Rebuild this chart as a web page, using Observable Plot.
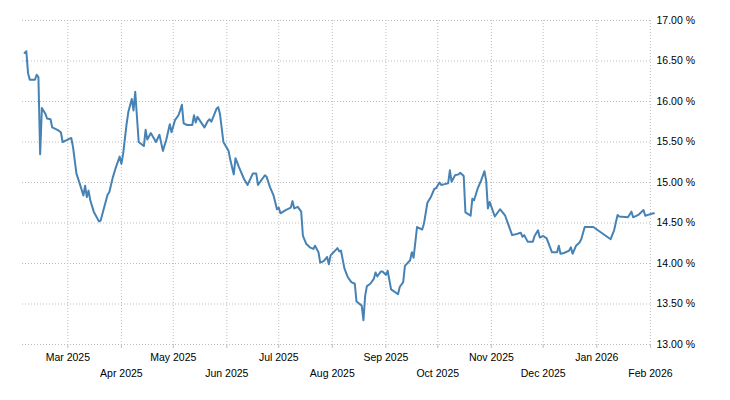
<!DOCTYPE html>
<html>
<head>
<meta charset="utf-8">
<script src="https://cdn.jsdelivr.net/npm/d3@7"></script>
<script src="https://cdn.jsdelivr.net/npm/@observablehq/plot@0.6"></script>
<style>
  html, body { margin: 0; padding: 0; background: #fff; }
  #chart { width: 730px; height: 400px; }
</style>
</head>
<body>
<div id="chart"></div>
<script>
const dates = [
  "2025-02-04","2025-02-05","2025-02-06","2025-02-07","2025-02-10","2025-02-11","2025-02-12","2025-02-13","2025-02-14","2025-02-16",
  "2025-02-17","2025-02-19","2025-02-20","2025-02-23","2025-02-25","2025-02-26","2025-02-28","2025-03-03","2025-03-04","2025-03-06",
  "2025-03-08","2025-03-10","2025-03-11","2025-03-12","2025-03-13","2025-03-14","2025-03-16","2025-03-19","2025-03-20","2025-03-22",
  "2025-03-24","2025-03-25","2025-03-27","2025-03-29","2025-03-31","2025-04-01","2025-04-02","2025-04-04","2025-04-05","2025-04-07",
  "2025-04-08","2025-04-09","2025-04-11","2025-04-14","2025-04-15","2025-04-16","2025-04-18","2025-04-21","2025-04-23","2025-04-25",
  "2025-04-27","2025-04-29","2025-04-30","2025-05-02","2025-05-04","2025-05-05","2025-05-06","2025-05-07","2025-05-09","2025-05-12",
  "2025-05-13","2025-05-14","2025-05-15","2025-05-19","2025-05-21","2025-05-22","2025-05-23","2025-05-24","2025-05-26","2025-05-27",
  "2025-05-28","2025-05-30","2025-06-02","2025-06-03","2025-06-05","2025-06-06","2025-06-08","2025-06-11","2025-06-13","2025-06-16",
  "2025-06-18","2025-06-19","2025-06-23","2025-06-24","2025-06-26","2025-06-28","2025-06-30","2025-07-01","2025-07-02","2025-07-05",
  "2025-07-08","2025-07-09","2025-07-10","2025-07-12","2025-07-14","2025-07-15","2025-07-17","2025-07-19","2025-07-21","2025-07-22",
  "2025-07-24","2025-07-25","2025-07-27","2025-07-29","2025-07-30","2025-07-31","2025-08-04","2025-08-05","2025-08-06","2025-08-08",
  "2025-08-10","2025-08-12","2025-08-14","2025-08-15","2025-08-18","2025-08-19","2025-08-20","2025-08-21","2025-08-23","2025-08-25",
  "2025-08-26","2025-08-27","2025-08-29","2025-08-30","2025-09-01","2025-09-02","2025-09-04","2025-09-08","2025-09-09","2025-09-11",
  "2025-09-12","2025-09-15","2025-09-16","2025-09-17","2025-09-19","2025-09-22","2025-09-23","2025-09-25","2025-09-27","2025-09-29",
  "2025-09-30","2025-10-02","2025-10-03","2025-10-05","2025-10-07","2025-10-08","2025-10-09","2025-10-11","2025-10-13","2025-10-14",
  "2025-10-16","2025-10-17","2025-10-20","2025-10-21","2025-10-22","2025-10-24","2025-10-26","2025-10-28","2025-10-29","2025-10-30",
  "2025-10-31","2025-11-03","2025-11-06","2025-11-09","2025-11-10","2025-11-13","2025-11-15","2025-11-18","2025-11-19","2025-11-20",
  "2025-11-22","2025-11-25","2025-11-26","2025-11-28","2025-11-29","2025-12-01","2025-12-03","2025-12-06","2025-12-09","2025-12-10",
  "2025-12-11","2025-12-13","2025-12-16","2025-12-17","2025-12-18","2025-12-20","2025-12-22","2025-12-23","2025-12-25","2025-12-30",
  "2026-01-01","2026-01-09","2026-01-11","2026-01-13","2026-01-14","2026-01-19","2026-01-21","2026-01-22","2026-01-25","2026-01-28",
  "2026-01-29","2026-02-01","2026-02-03"
];
const values = [
  16.60,16.62,16.35,16.27,16.27,16.33,16.30,15.35,15.92,15.85,
  15.79,15.78,15.68,15.65,15.62,15.50,15.52,15.55,15.44,15.11,
  14.98,14.84,14.96,14.82,14.90,14.78,14.64,14.52,14.53,14.69,
  14.85,14.88,15.06,15.20,15.32,15.23,15.35,15.72,15.87,16.03,
  15.89,16.12,15.50,15.45,15.65,15.53,15.61,15.50,15.59,15.39,
  15.53,15.72,15.62,15.77,15.83,15.89,15.96,15.73,15.71,15.71,
  15.83,15.74,15.81,15.68,15.76,15.78,15.75,15.80,15.91,15.93,
  15.85,15.50,15.39,15.28,15.10,15.30,15.19,15.04,14.97,15.11,
  15.11,14.97,15.09,15.07,14.94,14.84,14.67,14.69,14.62,14.66,
  14.69,14.77,14.68,14.70,14.64,14.34,14.24,14.20,14.18,14.22,
  14.14,14.01,14.03,14.08,13.99,14.10,14.19,14.15,14.16,13.94,
  13.83,13.77,13.75,13.53,13.48,13.30,13.60,13.72,13.75,13.81,
  13.89,13.84,13.90,13.90,13.86,13.91,13.68,13.62,13.71,13.77,
  13.97,14.04,14.14,14.07,14.45,14.42,14.49,14.75,14.82,14.92,
  14.93,15.00,14.97,14.98,14.99,15.15,15.01,15.09,15.10,15.12,
  15.08,14.63,14.59,14.80,14.78,14.92,15.02,15.14,15.02,14.68,
  14.76,14.58,14.67,14.59,14.53,14.35,14.36,14.38,14.33,14.35,
  14.27,14.27,14.34,14.41,14.32,14.34,14.31,14.14,14.14,14.22,
  14.12,14.13,14.16,14.20,14.12,14.22,14.26,14.30,14.45,14.45,
  14.42,14.30,14.41,14.60,14.58,14.57,14.64,14.57,14.60,14.66,
  14.59,14.61,14.62
];
const yTicks = [13, 13.5, 14, 14.5, 15, 15.5, 16, 16.5, 17];

const data = dates.map((d, i) => ({date: new Date(d), value: values[i]}));
const xStart = new Date(Date.UTC(2025, 1, 2, 19));
const xEnd = new Date(Date.UTC(2026, 1, 2, 5));
const monthTicks = d3.utcMonth.range(xStart, xEnd);
const upperTicks = monthTicks.filter((d, i) => i % 2 === 0);
const lowerTicks = monthTicks.filter((d, i) => i % 2 === 1);
const fmt = d3.utcFormat("%b %Y");
const gridStyle = {stroke: "#bdbdbd", strokeOpacity: 1, strokeDasharray: "1,2", strokeWidth: 1};

const chart = Plot.plot({
  width: 730,
  height: 400,
  marginTop: 20,
  marginBottom: 56,
  marginLeft: 22,
  marginRight: 78,
  style: {fontFamily: "'Liberation Sans', Arial, sans-serif", fontSize: "10.5px", color: "#000", background: "#fff"},
  x: {type: "utc", domain: [xStart, xEnd]},
  y: {domain: [13, 17]},
  marks: [
    Plot.gridY(yTicks, gridStyle),
    Plot.gridX(monthTicks, gridStyle),
    Plot.axisX(upperTicks, {tickSize: 4, tickPadding: 5.5, tickFormat: fmt, stroke: "#bdbdbd", fill: "#000", label: null}),
    Plot.axisX(lowerTicks, {tickSize: 4, tickPadding: 21.5, tickFormat: fmt, stroke: "#bdbdbd", fill: "#000", label: null}),
    Plot.axisY(yTicks, {anchor: "right", tickSize: 0, tickPadding: 4, tickFormat: d => d.toFixed(2) + " %", fill: "#000", label: null}),
    Plot.lineY(data, {x: "date", y: "value", stroke: "#4682b4", strokeWidth: 2})
  ]
});
document.getElementById("chart").appendChild(chart);
</script>
</body>
</html>
